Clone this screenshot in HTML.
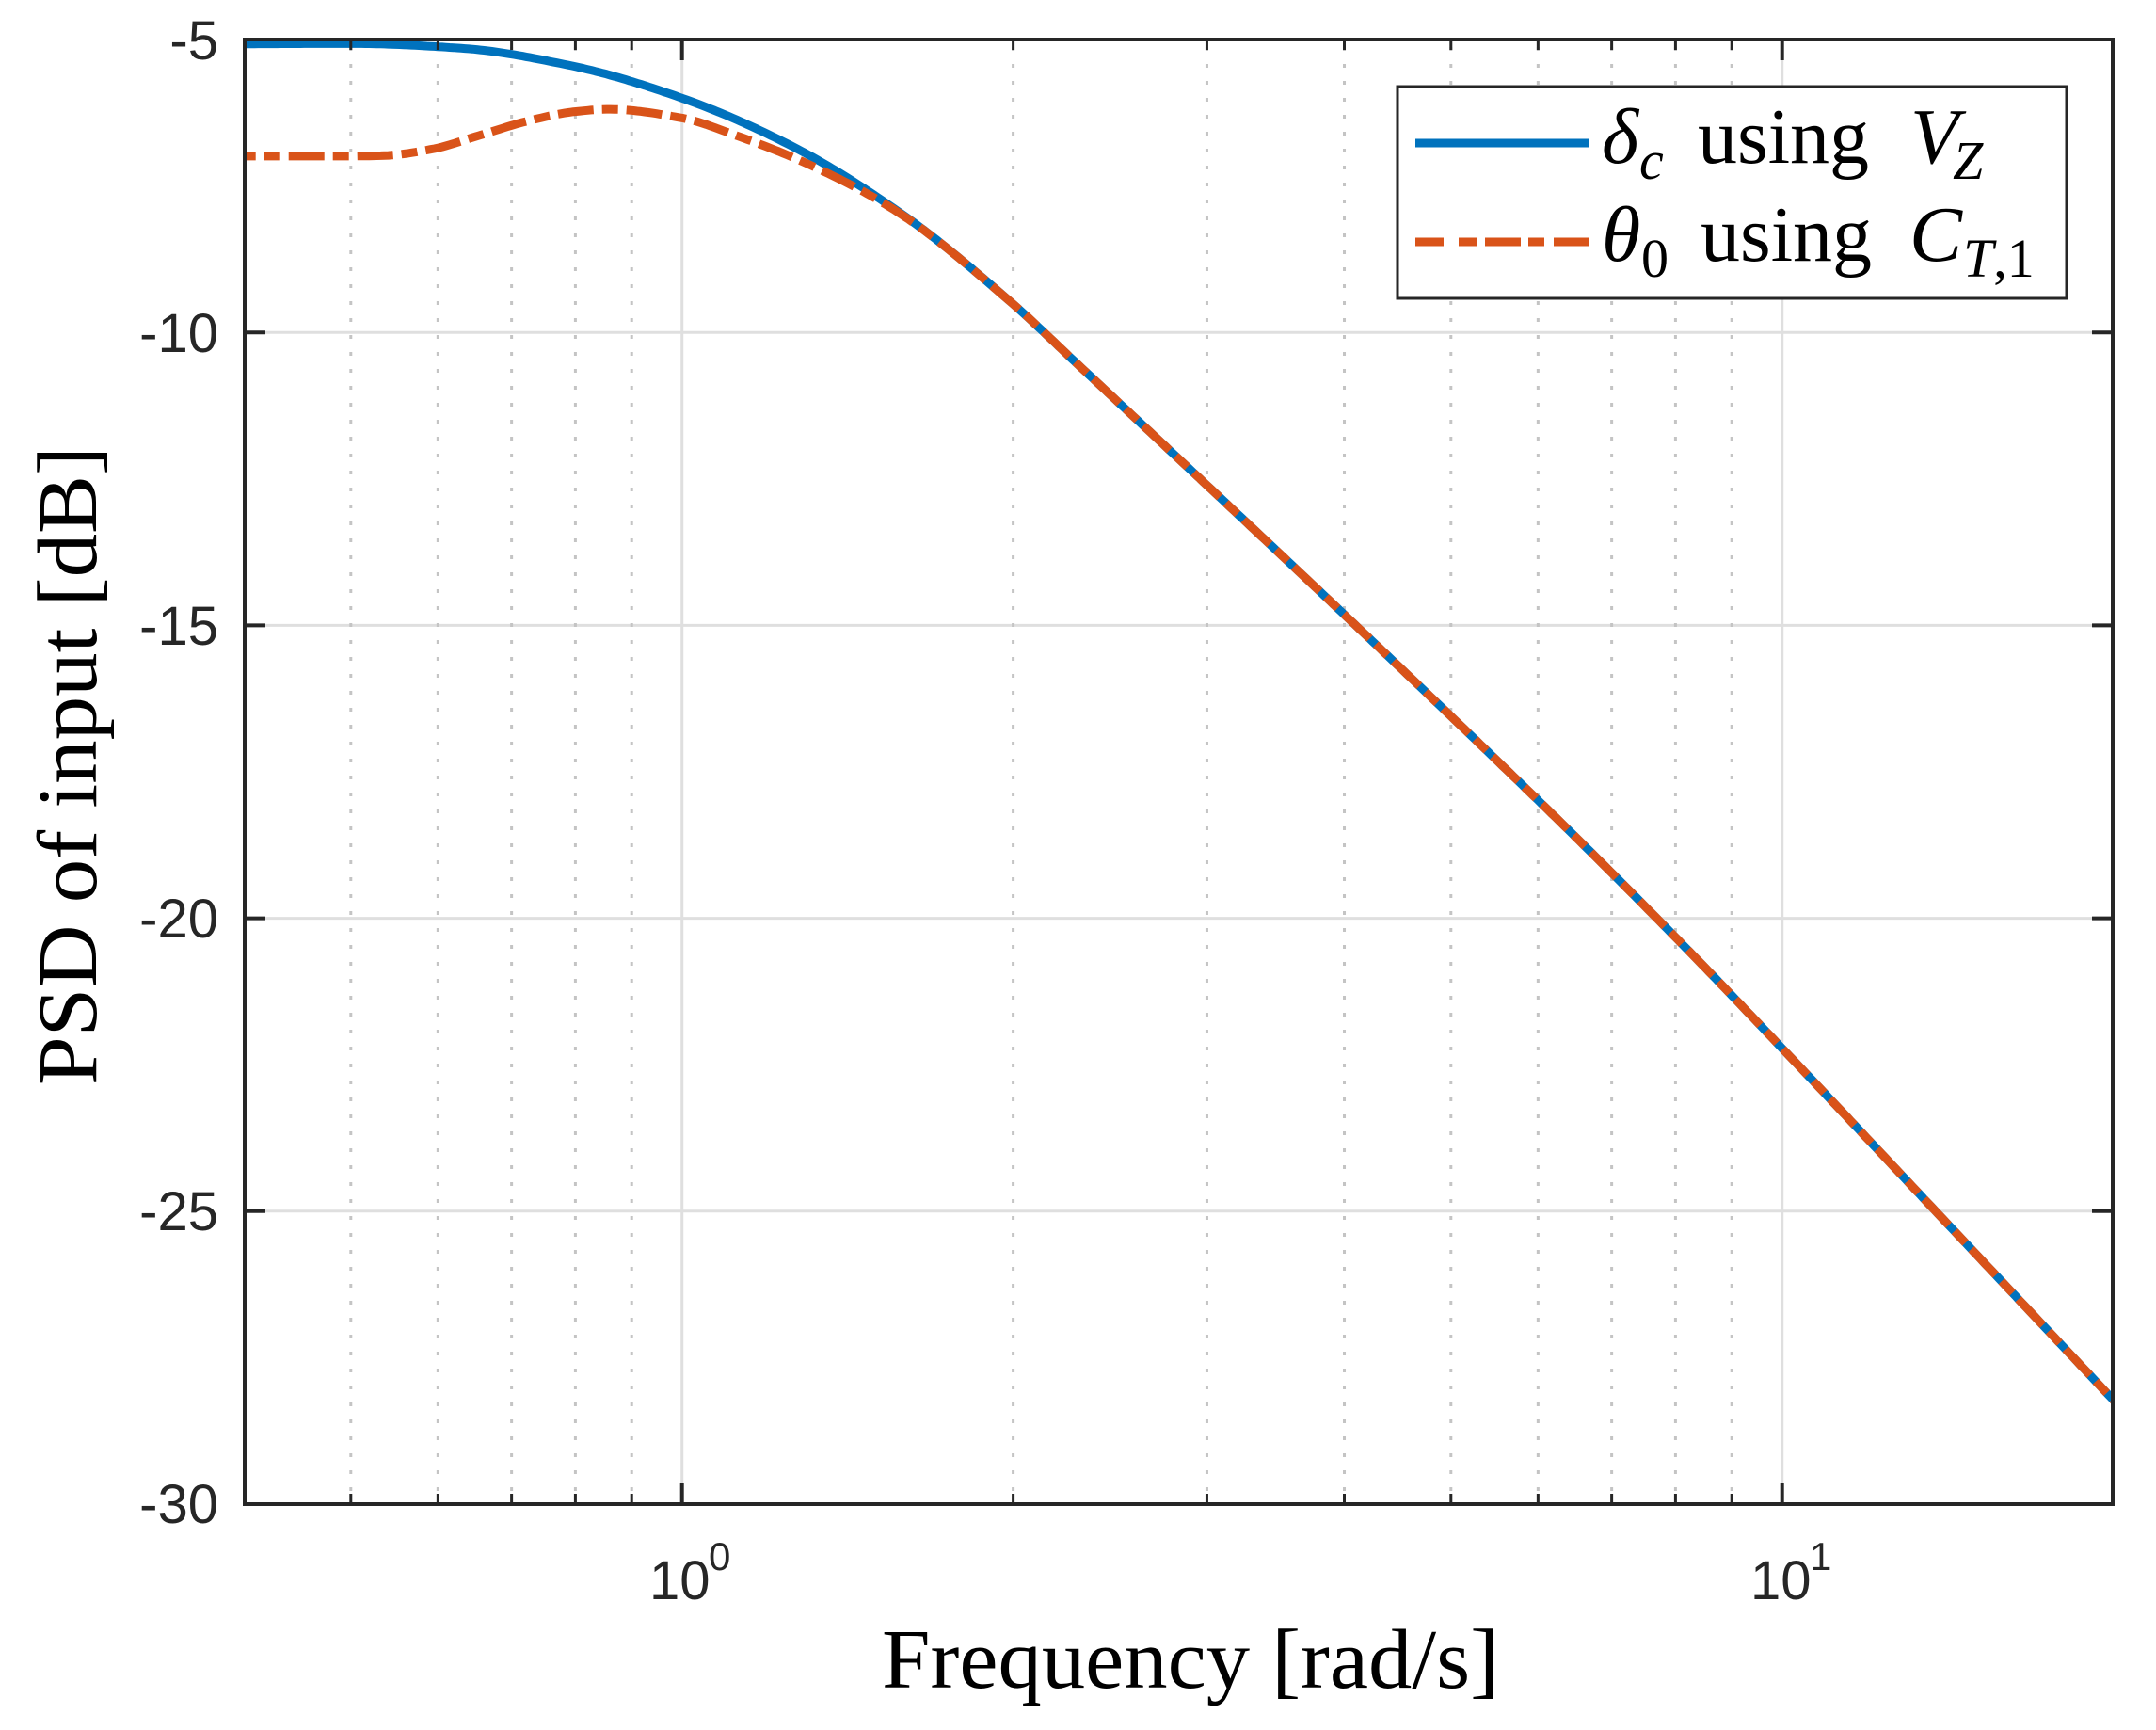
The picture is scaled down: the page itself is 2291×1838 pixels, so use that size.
<!DOCTYPE html>
<html><head><meta charset="utf-8">
<style>
html,body{margin:0;padding:0;background:#fff;}
svg{display:block;}
</style></head>
<body>
<svg id="s" width="2291" height="1838" viewBox="0 0 2291 1838" xmlns="http://www.w3.org/2000/svg">
<rect width="2291" height="1838" fill="#fff"/>
<defs><clipPath id="c"><rect x="260" y="42" width="1985" height="1556"/></clipPath></defs>
<g id="grid"></g>
<g clip-path="url(#c)">
<path id="blue" fill="none" stroke="#0072BD" stroke-width="9" stroke-linejoin="round"/>
<path id="orange" fill="none" stroke="#D95319" stroke-width="9" stroke-dasharray="38 9 17 9" stroke-linejoin="round"/>
</g>
<g id="ticks"></g>
<rect x="260" y="42" width="1985" height="1556" fill="none" stroke="#262626" stroke-width="4"/>
<g font-family="'Liberation Sans', sans-serif" font-size="58" fill="#262626" text-anchor="end">
<text x="232" y="63">-5</text>
<text x="232" y="374">-10</text>
<text x="232" y="685">-15</text>
<text x="232" y="996">-20</text>
<text x="232" y="1307">-25</text>
<text x="232" y="1618">-30</text>
</g>
<g font-family="'Liberation Sans', sans-serif" fill="#262626">
<text x="690" y="1699" font-size="58">10</text><text x="753" y="1668" font-size="42">0</text>
<text x="1860" y="1699" font-size="58">10</text><text x="1923" y="1668" font-size="42">1</text>
</g>
<g font-family="'Liberation Serif', serif" fill="#000">
<text x="937" y="1793" font-size="90" textLength="656" lengthAdjust="spacingAndGlyphs">Frequency [rad/s]</text>
<text transform="translate(102,1153) rotate(-90)" font-size="90" textLength="679" lengthAdjust="spacingAndGlyphs">PSD of input [dB]</text>
</g>
<rect x="1485" y="92" width="711" height="225" fill="#fff" stroke="#262626" stroke-width="3"/>
<line x1="1504" y1="152" x2="1689" y2="152" stroke="#0072BD" stroke-width="9"/>
<line x1="1504" y1="257" x2="1689" y2="257" stroke="#D95319" stroke-width="9" stroke-dasharray="30 16 19 9 38 8 17 10 40"/>
<g font-family="'Liberation Serif', serif" fill="#000">
<text x="1702" y="173" font-size="84" font-style="italic">δ</text>
<text x="1742" y="190" font-size="58" font-style="italic">c</text>
<text x="1804" y="173" font-size="84">using</text>
<text x="2030" y="173" font-size="84" font-style="italic">V</text>
<text x="2075" y="190" font-size="58" font-style="italic">Z</text>
<text x="1702" y="277" font-size="84" font-style="italic">θ</text>
<text x="1744" y="294" font-size="58">0</text>
<text x="1807" y="277" font-size="84">using</text>
<text x="2029" y="277" font-size="84" font-style="italic">C</text>
<text x="2086" y="294" font-size="58"><tspan font-style="italic">T</tspan>,1</text>
</g>
</svg>
<script>
var L=260,R=2245,T=42,B=1598,X0=724.7,DEC=1169;
function pxu(u){return X0+u*DEC;}
function px(w){return pxu(Math.log10(w));}
function py2(d){return T+(-5-d)*62.24;}
var ns="http://www.w3.org/2000/svg";
function el(p,tag,a){var e=document.createElementNS(ns,tag);for(var k in a)e.setAttribute(k,a[k]);p.appendChild(e);return e;}
var g=document.getElementById('grid'),tk=document.getElementById('ticks');
[-10,-15,-20,-25].forEach(function(d){var y=py2(d);el(g,'line',{x1:L,x2:R,y1:y,y2:y,stroke:'#dfdfdf','stroke-width':3});
el(tk,'line',{x1:L,x2:L+22,y1:y,y2:y,stroke:'#262626','stroke-width':4});
el(tk,'line',{x1:R-22,x2:R,y1:y,y2:y,stroke:'#262626','stroke-width':4});});
[1,10].forEach(function(w){var x=px(w);el(g,'line',{x1:x,x2:x,y1:T,y2:B,stroke:'#dfdfdf','stroke-width':3});
el(tk,'line',{x1:x,x2:x,y1:B-22,y2:B,stroke:'#262626','stroke-width':4});
el(tk,'line',{x1:x,x2:x,y1:T,y2:T+22,stroke:'#262626','stroke-width':4});});
[0.5,0.6,0.7,0.8,0.9,2,3,4,5,6,7,8,9].forEach(function(w){var x=px(w);
el(g,'line',{x1:x,x2:x,y1:T+8,y2:B,stroke:'#c4c4c4','stroke-width':3,'stroke-dasharray':'4 14'});
el(tk,'line',{x1:x,x2:x,y1:B-11,y2:B,stroke:'#262626','stroke-width':3});
el(tk,'line',{x1:x,x2:x,y1:T,y2:T+11,stroke:'#262626','stroke-width':3});});
function pchip(P){
 var n=P.length,h=[],d=[],m=[];
 for(var i=0;i<n-1;i++){h.push(P[i+1][0]-P[i][0]);d.push((P[i+1][1]-P[i][1])/h[i]);}
 m[0]=d[0];m[n-1]=d[n-2];
 for(var i=1;i<n-1;i++){
  if(d[i-1]*d[i]<=0)m[i]=0;
  else{var w1=2*h[i]+h[i-1],w2=h[i]+2*h[i-1];m[i]=(w1+w2)/(w1/d[i-1]+w2/d[i]);}
 }
 return function(u){
  var i=0;while(i<n-2&&u>P[i+1][0])i++;
  var t=(u-P[i][0])/h[i],t2=t*t,t3=t2*t;
  return (2*t3-3*t2+1)*P[i][1]+(t3-2*t2+t)*h[i]*m[i]+(-2*t3+3*t2)*P[i+1][1]+(t3-t2)*h[i]*m[i+1];
 };
}
function curve(f){var d='';for(var i=0;i<=500;i++){var u=-0.42+i*(1.74/500);
 d+=(i?'L':'M')+pxu(u).toFixed(1)+','+py2(f(u)).toFixed(1);}return d;}
var tail=[[0.3,-9.5],[0.36,-10.55],[0.45,-12.13],[0.56,-14.07],[0.618,-15.1],[0.72,-16.93],[0.817,-18.7],[0.92,-20.65],[1.0,-22.22],[1.142,-25.05],[1.32,-28.6]];
var blue=[[-0.45,-5.08],[-0.3,-5.07],[-0.2,-5.15],[-0.1,-5.45],[0,-6.0],[0.1,-6.82],[0.2,-7.98]].concat(tail);
var orange=[[-0.45,-6.99],[-0.3,-6.99],[-0.27,-6.98],[-0.227,-6.87],[-0.183,-6.63],[-0.14,-6.39],[-0.097,-6.23],[-0.067,-6.19],[0,-6.34],[0.051,-6.65],[0.103,-7.03],[0.189,-7.86]].concat(tail);
document.getElementById('blue').setAttribute('d',curve(pchip(blue)));
document.getElementById('orange').setAttribute('d',curve(pchip(orange)));
</script>
</body></html>
